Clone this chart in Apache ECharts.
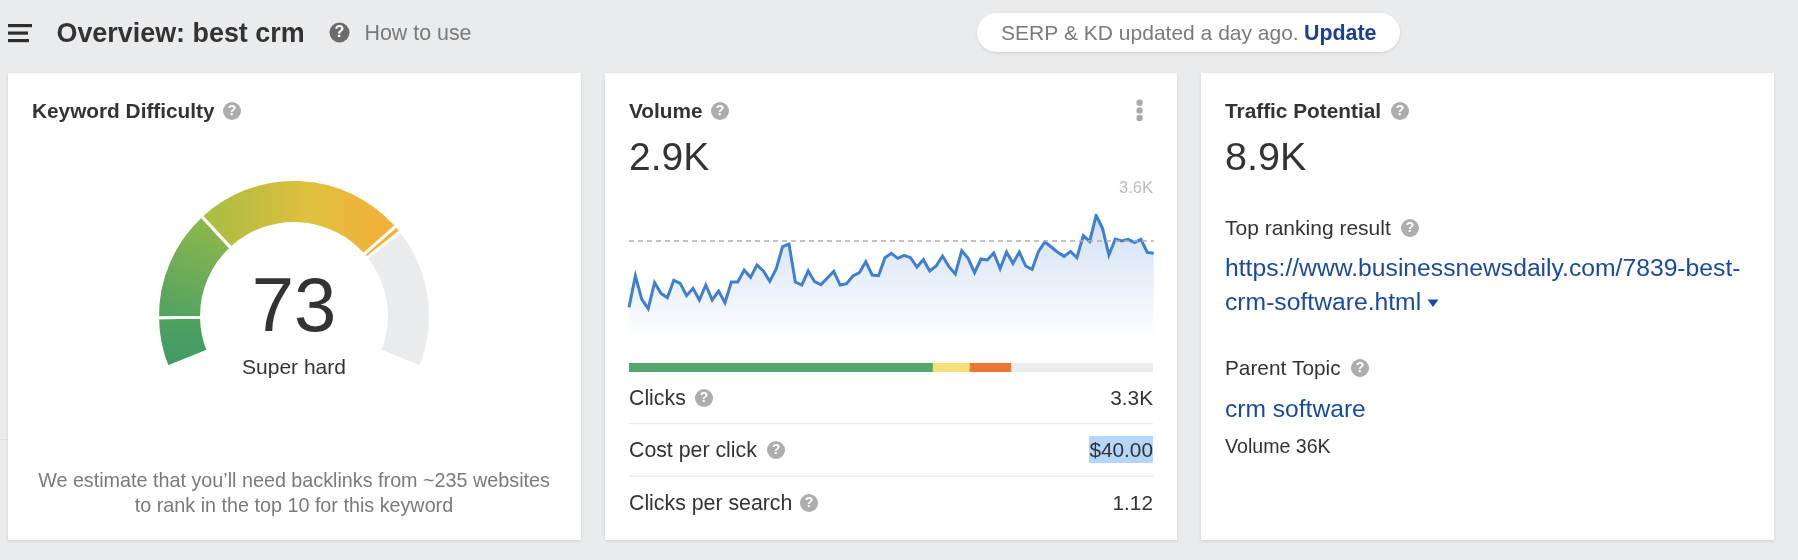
<!DOCTYPE html>
<html>
<head>
<meta charset="utf-8">
<style>html,body{margin:0;padding:0;background:#EAEBED;overflow:hidden}#c{width:1798px;height:560px}</style>
<script src="https://cdn.jsdelivr.net/npm/echarts@6/dist/echarts.min.js"></script>
</head>
<body>
<div id="c"></div>
<script>
var volumeHistory = [1084,1940,1303,1048,1758,1467,1348,1822,1740,1403,1603,1285,1694,1285,1530,1212,1776,1776,2104,1904,2241,2077,1795,2131,2742,2815,1776,1694,2077,1786,1704,1886,2068,1694,1731,1940,2032,2332,1968,1950,2441,2560,2423,2505,2441,2186,2387,2077,2214,2487,2196,1995,2633,2423,2032,2405,2378,2569,2141,2596,2286,2596,2214,2122,2614,2870,2733,2587,2478,2614,2441,3043,2886,3600,3243,2514,2952,2897,2942,2852,2942,2587,2560];
var volumeIndex = volumeHistory.map(function (v, i) { return i; });
var volumeCurrent = 2900;
var volumeMax = 3600;
var gaugeSegments = [9.5, 21.4, 40.8, 1.3, 27];
var gaugeValue = '73';
var gaugeLabel = 'Super hard';
var clickShareNames = ['Organic', 'Ads', 'Paid', 'No clicks'];
var clickShare = [58, 7, 8, 27];
var clickShareColors = ['#53A76D', '#F7DF78', '#E97733', '#EBECEE'];

var FONT = '"Liberation Sans", Arial, sans-serif';
var DARK = '#333333', BLUE = '#1A4A9E', GREY = '#7A7A7A';
var els = [];

function rect(x, y, w, h, fill, z, r, shadow) {
  var st = { fill: fill };
  if (shadow) { st.shadowBlur = 3; st.shadowOffsetY = 1; st.shadowColor = 'rgba(0,0,0,0.12)'; }
  els.push({ type: 'rect', z: z || 0, silent: true, shape: { x: x, y: y, width: w, height: h, r: r || 0 }, style: st });
}
function text(t, x, y, size, color, opts) {
  opts = opts || {};
  els.push({ type: 'text', z: 10, silent: true, x: x, y: y + 1, style: {
    text: t, fill: color, font: (opts.bold ? 'bold ' : '') + size + 'px ' + FONT,
    textAlign: opts.align || 'left', textVerticalAlign: 'middle' } });
}
function help(cx, cy, r, fill) {
  els.push({ type: 'circle', z: 10, silent: true, shape: { cx: cx, cy: cy, r: r }, style: { fill: fill || '#ADADAD' } });
  text('?', cx, cy - 0.5, Math.round(r * 1.6), '#FFFFFF', { bold: true, align: 'center' });
}

// cards and header
rect(0, 439, 8, 1, '#DDDEE0', 0);
rect(8, 73, 573, 467, '#FFFFFF', 0, 0, true);
rect(605, 73, 572, 467, '#FFFFFF', 0, 0, true);
rect(1201, 73, 573, 467, '#FFFFFF', 0, 0, true);
rect(8, 24, 24, 3.2, '#2E2E2E', 1);
rect(8, 31.5, 20, 3.2, '#2E2E2E', 1);
rect(8, 39, 21, 3.2, '#2E2E2E', 1);
text('Overview: best crm', 56.5, 33.5, 26.9, DARK, { bold: true });
help(339.5, 32.5, 10, '#6B6B6B');
text('How to use', 364.5, 33, 21.4, GREY);
rect(977, 13, 423, 39, '#FFFFFF', 0, 19.5, true);
text('SERP & KD updated a day ago.', 1001, 33, 21, GREY);
text('Update', 1304, 33, 21.4, '#1A3F94', { bold: true });

// keyword difficulty
text('Keyword Difficulty', 32, 111, 20.8, DARK, { bold: true });
help(232, 111, 9);
text(gaugeValue, 294, 309, 76, DARK, { align: 'center' });
text(gaugeLabel, 294, 367, 21, DARK, { align: 'center' });
text('We estimate that you\u2019ll need backlinks from ~235 websites', 294, 481, 19.75, GREY, { align: 'center' });
text('to rank in the top 10 for this keyword', 294, 505.5, 19.75, GREY, { align: 'center' });

// volume
text('Volume', 629, 111, 20.8, DARK, { bold: true });
help(720, 111, 9);
[102.7, 110.5, 118].forEach(function (y) {
  els.push({ type: 'circle', z: 10, silent: true, shape: { cx: 1139.6, cy: y, r: 3.2 }, style: { fill: '#ABABAB' } });
});
text('2.9K', 629, 158.5, 39, DARK);
text('3.6K', 1153, 187, 16.5, '#BBBBBB', { align: 'right' });
rect(1089, 436, 64, 27, '#B5D5FB', 1);
text('Clicks', 629, 398, 21.3, DARK);
help(704, 398, 9);
text('3.3K', 1153, 398, 20.8, DARK, { align: 'right' });
rect(629, 423, 524, 1.2, '#EBECEE', 1);
text('Cost per click', 629, 450, 21.3, DARK);
help(776, 450, 9);
text('$40.00', 1153, 450, 20.8, DARK, { align: 'right' });
rect(629, 475.5, 524, 1.6, '#EBECEE', 1);
text('Clicks per search', 629, 503, 21.3, DARK);
help(809, 503, 9);
text('1.12', 1153, 503, 20.8, DARK, { align: 'right' });

// traffic potential
text('Traffic Potential', 1225, 111, 20.8, DARK, { bold: true });
help(1400, 111, 9);
text('8.9K', 1225, 158, 39.5, DARK);
text('Top ranking result', 1225, 228, 21, DARK);
help(1410, 228, 9);
text('https://www.businessnewsdaily.com/7839-best-', 1225, 268.5, 24.7, BLUE);
text('crm-software.html', 1225, 302, 24.7, BLUE);
els.push({ type: 'polygon', z: 10, silent: true, shape: { points: [[1427.5, 299.5], [1438.5, 299.5], [1433, 307]] }, style: { fill: BLUE } });
text('Parent Topic', 1225, 368, 20.8, DARK);
help(1360, 368, 9);
text('crm software', 1225, 409, 24.6, BLUE);
text('Volume 36K', 1225, 447, 19.6, DARK);

function grad(x0, y0, x1, y1, stops) {
  return new echarts.graphic.LinearGradient(x0, y0, x1, y1, stops, true);
}
var gaugeColors = [
  grad(170, 367, 170, 316, [{ offset: 0, color: '#3F9A65' }, { offset: 1, color: '#4FA261' }]),
  grad(185, 316, 225, 220, [{ offset: 0, color: '#55A45F' }, { offset: 1, color: '#92B94A' }]),
  grad(215, 250, 385, 250, [{ offset: 0, color: '#ADBD41' }, { offset: 0.55, color: '#DFC03E' }, { offset: 1, color: '#F3B03A' }]),
  '#F3B03A',
  '#EAEBED'
];

var chart = echarts.init(document.getElementById('c'), null, { renderer: 'canvas' });
var barSeries = clickShare.map(function (v, i) {
  return {
    type: 'bar', name: clickShareNames[i], stack: 'share', xAxisIndex: 1, yAxisIndex: 1,
    data: [v], barWidth: 9, itemStyle: { color: clickShareColors[i] }, silent: true, animation: false
  };
});
chart.setOption({
  animation: false,
  backgroundColor: '#EAEBED',
  textStyle: { fontFamily: FONT },
  graphic: { elements: els },
  grid: [
    { left: 629, top: 215.3, width: 524.7, height: 131.7, containLabel: false },
    { left: 629, top: 363, width: 524, height: 9, containLabel: false }
  ],
  xAxis: [
    { type: 'category', gridIndex: 0, data: volumeIndex, boundaryGap: false, show: false },
    { type: 'value', gridIndex: 1, min: 0, max: 100, show: false }
  ],
  yAxis: [
    { type: 'value', gridIndex: 0, min: 0, max: volumeMax, show: false },
    { type: 'category', gridIndex: 1, data: ['Clicks'], show: false }
  ],
  series: [
    {
      type: 'line', xAxisIndex: 0, yAxisIndex: 0, data: volumeHistory, symbol: 'none', smooth: false, silent: true,
      clip: true,
      lineStyle: { color: '#3F7FD0', width: 3, join: 'miter' },
      areaStyle: { color: new echarts.graphic.LinearGradient(0, 0, 0, 1, [
        { offset: 0, color: '#BDD3EF' }, { offset: 0.5, color: '#DFE9F7' }, { offset: 0.95, color: '#FFFFFF' }, { offset: 1, color: '#FFFFFF' }]) },
      markLine: {
        silent: true, symbol: 'none', label: { show: false }, animation: false,
        lineStyle: { color: '#AFAFAF', type: [5, 4], width: 1.5 },
        data: [{ yAxis: volumeCurrent }]
      }
    },
    {
      type: 'pie', center: [294, 316], radius: [92.5, 136.5], startAngle: 202, endAngle: -22, clockwise: true,
      silent: true, label: { show: false }, labelLine: { show: false }, avoidLabelOverlap: false, minAngle: 0,
      itemStyle: { borderColor: '#FFFFFF', borderWidth: 3 },
      data: gaugeSegments.map(function (v, i) { return { value: v, itemStyle: { color: gaugeColors[i] } }; })
    }
  ].concat(barSeries)
});
</script>
</body>
</html>
